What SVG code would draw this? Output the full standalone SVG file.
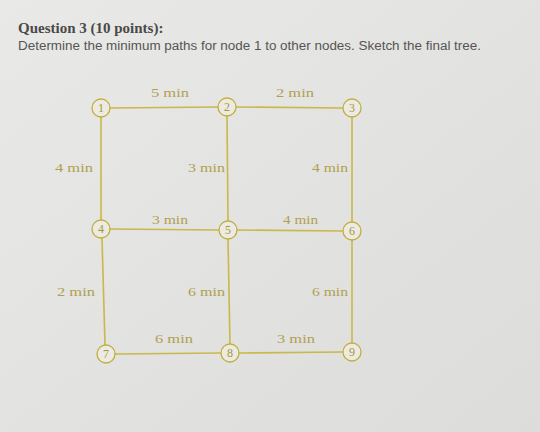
<svg xmlns="http://www.w3.org/2000/svg" width="540" height="432" viewBox="0 0 540 432">
<defs>
<linearGradient id="bg" x1="0" y1="0" x2="1" y2="1">
<stop offset="0" stop-color="#e9e9e7"/>
<stop offset="1" stop-color="#dcdcda"/>
</linearGradient>
</defs>
<style>
.edge{stroke:#c9b84a;stroke-width:1.6;fill:none}
.node circle{fill:#ecebe3;stroke:#c2ae3c;stroke-width:1.3}
.node text{font-family:"Liberation Serif",serif;font-size:12px;fill:#a8963c;text-anchor:middle}
.lbl{font-family:"Liberation Serif",serif;font-size:13px;fill:#b0a050}
</style>
<rect width="540" height="432" fill="url(#bg)"/>
<text x="18" y="33" font-family="Liberation Serif,serif" font-weight="bold" font-size="15" fill="#4a4a48">Question 3 (10 points):</text>
<text x="18" y="50" font-family="Liberation Sans,sans-serif" font-size="12" fill="#555553" textLength="463" lengthAdjust="spacingAndGlyphs">Determine the minimum paths for node 1 to other nodes. Sketch the final tree.</text>
<g id="connectors">
<line class="edge" x1="110" y1="108" x2="218" y2="107"/>
<line class="edge" x1="236" y1="107" x2="343" y2="108"/>
<line class="edge" x1="101" y1="117" x2="101" y2="220"/>
<line class="edge" x1="227" y1="116" x2="228" y2="221"/>
<line class="edge" x1="352" y1="117" x2="352" y2="222"/>
<line class="edge" x1="110" y1="229" x2="219" y2="230"/>
<line class="edge" x1="237" y1="230" x2="343" y2="231"/>
<line class="edge" x1="102" y1="238" x2="105" y2="345"/>
<line class="edge" x1="228" y1="239" x2="230" y2="344"/>
<line class="edge" x1="352" y1="240" x2="352" y2="343"/>
<line class="edge" x1="115" y1="354" x2="221" y2="353"/>
<line class="edge" x1="239" y1="353" x2="343" y2="352"/>
</g>
<g id="labels">
<text class="lbl" x="151" y="97" textLength="38" lengthAdjust="spacingAndGlyphs">5 min</text>
<text class="lbl" x="276" y="97" textLength="38" lengthAdjust="spacingAndGlyphs">2 min</text>
<text class="lbl" x="55" y="172" textLength="38" lengthAdjust="spacingAndGlyphs">4 min</text>
<text class="lbl" x="188" y="172" textLength="37" lengthAdjust="spacingAndGlyphs">3 min</text>
<text class="lbl" x="312" y="172" textLength="36" lengthAdjust="spacingAndGlyphs">4 min</text>
<text class="lbl" x="152" y="224" textLength="36" lengthAdjust="spacingAndGlyphs">3 min</text>
<text class="lbl" x="283" y="224" textLength="35" lengthAdjust="spacingAndGlyphs">4 min</text>
<text class="lbl" x="57" y="296" textLength="38" lengthAdjust="spacingAndGlyphs">2 min</text>
<text class="lbl" x="188" y="296" textLength="37" lengthAdjust="spacingAndGlyphs">6 min</text>
<text class="lbl" x="312" y="296" textLength="36" lengthAdjust="spacingAndGlyphs">6 min</text>
<text class="lbl" x="155" y="343" textLength="38" lengthAdjust="spacingAndGlyphs">6 min</text>
<text class="lbl" x="277" y="343" textLength="38" lengthAdjust="spacingAndGlyphs">3 min</text>
</g>
<g id="node1" class="node"><circle cx="101" cy="108" r="9"/><text x="101" y="112">1</text></g>
<g id="node2" class="node"><circle cx="227" cy="107" r="9"/><text x="227" y="111">2</text></g>
<g id="node3" class="node"><circle cx="352" cy="108" r="9"/><text x="352" y="112">3</text></g>
<g id="node4" class="node"><circle cx="101" cy="229" r="9"/><text x="101" y="233">4</text></g>
<g id="node5" class="node"><circle cx="228" cy="230" r="9"/><text x="228" y="234">5</text></g>
<g id="node6" class="node"><circle cx="352" cy="231" r="9"/><text x="352" y="235">6</text></g>
<g id="node7" class="node"><circle cx="106" cy="354" r="9"/><text x="106" y="358">7</text></g>
<g id="node8" class="node"><circle cx="230" cy="353" r="9"/><text x="230" y="357">8</text></g>
<g id="node9" class="node"><circle cx="352" cy="352" r="9"/><text x="352" y="356">9</text></g>
</svg>
